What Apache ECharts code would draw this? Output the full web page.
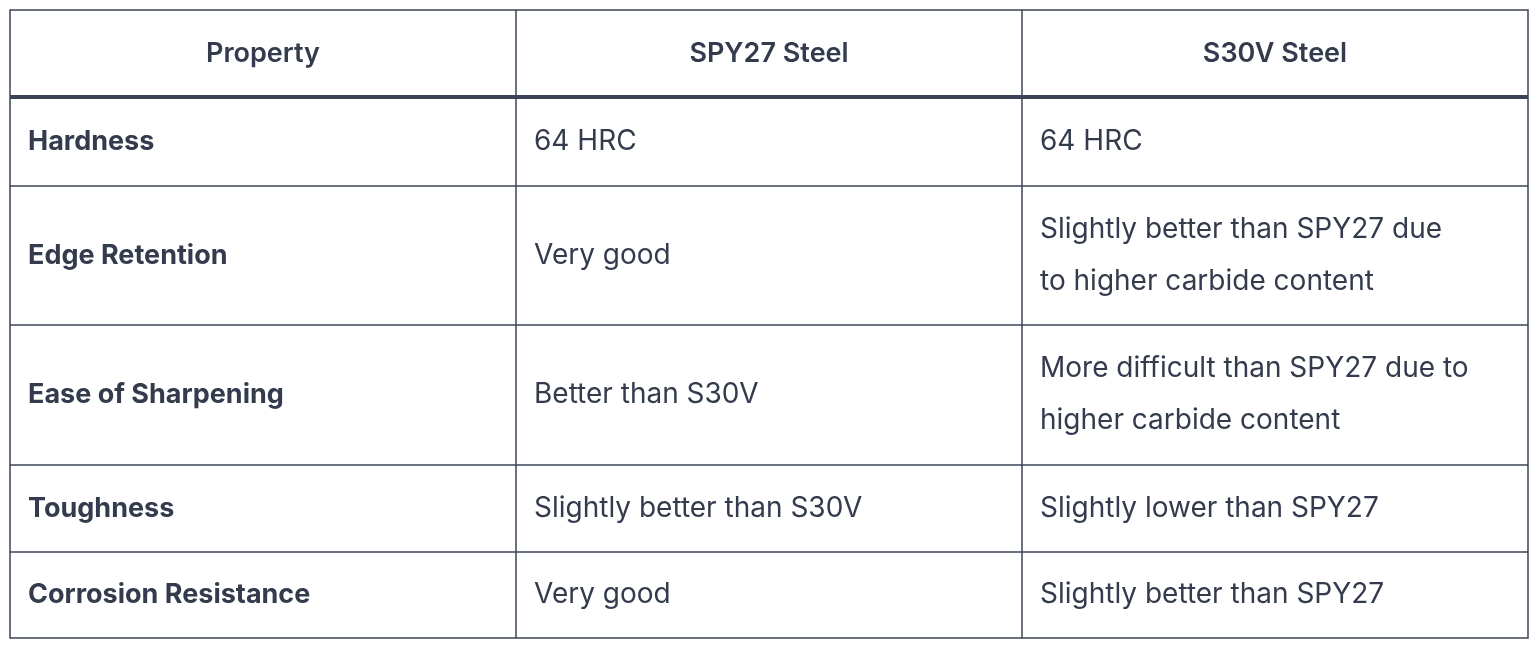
<!DOCTYPE html>
<html><head><meta charset="utf-8">
<script src="https://cdn.jsdelivr.net/npm/echarts@6/dist/echarts.min.js"></script>
<style>html,body{margin:0;padding:0;background:#fff}#c{width:1540px;height:660px}</style>
</head><body><div id="c"></div>
<script>
const headers = ["Property", "SPY27 Steel", "S30V Steel"];
const properties = ["Hardness", "Edge Retention", "Ease of Sharpening", "Toughness", "Corrosion Resistance"];
const spy27 = ["64 HRC", "Very good", "Better than S30V", "Slightly better than S30V", "Very good"];
const s30v = ["64 HRC", "Slightly better than SPY27 due\nto higher carbide content", "More difficult than SPY27 due to\nhigher carbide content", "Slightly lower than SPY27", "Slightly better than SPY27"];

const chart = echarts.init(document.getElementById('c'));
const colX = [10, 516, 1022, 1528];
const rowY = [10, 97, 186, 325, 465, 552, 638];
const ink = '#333b4d', line = '#3b4356';
const font = 'Inter, "Noto Sans", sans-serif';
const els = [];
// outer border
els.push({type:'rect', shape:{x:colX[0], y:rowY[0], width:colX[3]-colX[0], height:rowY[6]-rowY[0]}, style:{fill:'#fff', stroke:line, lineWidth:1.5}});
// horizontal lines
for (let i = 1; i < rowY.length - 1; i++) {
  els.push({type:'line', shape:{x1:colX[0], y1:rowY[i], x2:colX[3], y2:rowY[i]}, style:{stroke:line, lineWidth: i===1 ? 4 : 1.5}});
}
for (let j = 1; j < 3; j++) {
  els.push({type:'line', shape:{x1:colX[j], y1:rowY[0], x2:colX[j], y2:rowY[6]}, style:{stroke:line, lineWidth:1.5}});
}
headers.forEach((h, j) => {
  els.push({type:'text', style:{text:h, x:(colX[j]+colX[j+1])/2, y:(rowY[0]+rowY[1])/2, align:'center', verticalAlign:'middle', fill:ink, font:'600 27px '+font}});
});
const cols = [properties, spy27, s30v];
for (let r = 0; r < properties.length; r++) {
  const cy = (rowY[r+1] + rowY[r+2]) / 2;
  cols.forEach((arr, j) => {
    els.push({type:'text', style:{text:arr[r], x:colX[j]+18, y:cy, align:'left', verticalAlign:'middle', fill:ink, lineHeight:52,
      font:(j===0 ? '700 27px ' : '400 28px ') + font}});
  });
}
chart.setOption({animation:false, graphic:{elements:els}});
</script></body></html>
